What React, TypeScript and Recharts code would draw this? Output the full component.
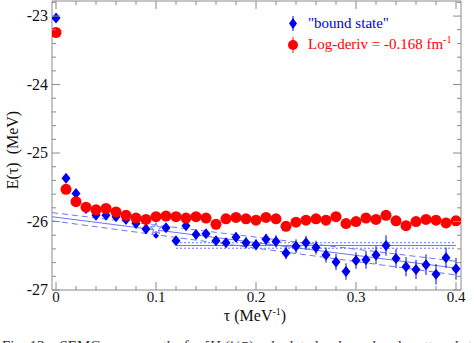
import {
  ComposedChart,
  Customized,
  ErrorBar,
  Line,
  Scatter,
  XAxis,
  YAxis,
} from "recharts";

const tau = [
  0, 0.01, 0.02, 0.03, 0.04, 0.05, 0.06, 0.07, 0.08, 0.09, 0.1, 0.11, 0.12, 0.13,
  0.14, 0.15, 0.16, 0.17, 0.18, 0.19, 0.2, 0.21, 0.22, 0.23, 0.24, 0.25, 0.26,
  0.27, 0.28, 0.29, 0.3, 0.31, 0.32, 0.33, 0.34, 0.35, 0.36, 0.37, 0.38, 0.39, 0.4,
];

const boundState = [
  -23.03, -25.37, -25.59, -25.81, -25.91, -25.91, -25.93, -25.97, -26.03, -26.11,
  -26.15, -26.09, -26.28, -26.06, -26.19, -26.18, -26.28, -26.31, -26.23, -26.31,
  -26.34, -26.26, -26.29, -26.46, -26.36, -26.31, -26.38, -26.49, -26.59, -26.73,
  -26.57, -26.56, -26.49, -26.35, -26.54, -26.66, -26.7, -26.63, -26.77, -26.53,
  -26.69,
];

const boundErr = [
  0.01, 0.02, 0.02, 0.03, 0.03, 0.03, 0.04, 0.04, 0.04, 0.04, 0.05, 0.05, 0.06,
  0.06, 0.06, 0.06, 0.07, 0.07, 0.07, 0.08, 0.08, 0.08, 0.09, 0.09, 0.1, 0.1, 0.1,
  0.11, 0.12, 0.12, 0.12, 0.13, 0.13, 0.15, 0.14, 0.14, 0.14, 0.15, 0.15, 0.15,
  0.16,
];

const logDeriv = [
  -23.24, -25.53, -25.71, -25.79, -25.83, -25.81, -25.86, -25.91, -25.95, -25.97,
  -25.93, -25.92, -25.93, -25.95, -25.93, -25.95, -26.04, -25.96, -25.94, -25.96,
  -25.98, -25.94, -25.96, -26.07, -26.01, -25.98, -25.96, -25.98, -25.93, -26.03,
  -26.0, -25.95, -25.97, -25.91, -25.99, -26.06, -26.0, -25.97, -25.98, -26.02,
  -25.99,
];

const logDerivErr = [
  0.01, 0.01, 0.01, 0.01, 0.01, 0.01, 0.01, 0.01, 0.01, 0.01, 0.02, 0.02, 0.02,
  0.02, 0.02, 0.02, 0.02, 0.02, 0.02, 0.02, 0.02, 0.02, 0.02, 0.02, 0.02, 0.02,
  0.02, 0.02, 0.02, 0.02, 0.03, 0.03, 0.03, 0.03, 0.03, 0.03, 0.03, 0.03, 0.03,
  0.03, 0.03,
];

// linear fit to the bound-state points, with its error band
const fitTau = [-0.004, 0.4];
const fitCenter = [-25.93, -26.68];
const fitUpper = [-25.87, -26.58];
const fitLower = [-25.99, -26.78];

// plateau fit
const plateauTau = [0.12, 0.4];
const plateauCenter = [-26.35, -26.35];
const plateauUpper = [-26.31, -26.31];
const plateauLower = [-26.39, -26.39];

const xTicks = [
  0, 0.02, 0.04, 0.06, 0.08, 0.1, 0.12, 0.14, 0.16, 0.18, 0.2, 0.22, 0.24, 0.26,
  0.28, 0.3, 0.32, 0.34, 0.36, 0.38, 0.4,
];
const yTicks = [
  -27, -26.8, -26.6, -26.4, -26.2, -26, -25.8, -25.6, -25.4, -25.2, -25, -24.8,
  -24.6, -24.4, -24.2, -24, -23.8, -23.6, -23.4, -23.2, -23, -22.8,
];

const blue = "#0000f0";
const red = "#ff0000";
const fitColor = "#6a74ff";
const axisColor = "#8a8a8a";
const font = "'Liberation Serif', 'DejaVu Serif', serif";

const boundData = tau.map((x, i) => ({ x, y: boundState[i], err: boundErr[i] }));
const logData = tau.map((x, i) => ({ x, y: logDeriv[i], err: logDerivErr[i] }));
const toLine = (xs: number[], ys: number[]) => xs.map((x, i) => ({ x, y: ys[i] }));

const isMajorX = (v: number) => Math.abs(v * 10 - Math.round(v * 10)) < 1e-6;
const isMajorY = (v: number) => Math.abs(v - Math.round(v)) < 1e-6;

const BottomTick = (props: any) => {
  const { x, y, payload } = props;
  const major = isMajorX(payload.value);
  return (
    <g>
      <line x1={x} y1={y} x2={x} y2={y - (major ? 8 : 4)} stroke={axisColor} />
      {major && (
        <text x={x} y={y + 12} textAnchor="middle" fontFamily={font} fontSize={15} fill="#111">
          {String(Math.round(payload.value * 10) / 10)}
        </text>
      )}
    </g>
  );
};

const TopTick = (props: any) => {
  const { x, y, payload } = props;
  const major = isMajorX(payload.value);
  return <line x1={x} y1={y} x2={x} y2={y + (major ? 8 : 4)} stroke={axisColor} />;
};

const LeftTick = (props: any) => {
  const { x, y, payload } = props;
  const major = isMajorY(payload.value);
  return (
    <g>
      <line x1={x} y1={y} x2={x + (major ? 8 : 4)} y2={y} stroke={axisColor} />
      {major && (
        <text x={x - 4} y={y + 5} textAnchor="end" fontFamily={font} fontSize={16} fill="#111">
          {String(Math.round(payload.value))}
        </text>
      )}
    </g>
  );
};

const RightTick = (props: any) => {
  const { x, y, payload } = props;
  const major = isMajorY(payload.value);
  return <line x1={x} y1={y} x2={x - (major ? 8 : 4)} y2={y} stroke={axisColor} />;
};

const Diamond = (props: any) => {
  const { cx, cy, payload } = props;
  if (payload && Math.abs(payload.x - 0.1) < 1e-6) {
    // open star marker at tau = 0.1
    const pts: string[] = [];
    for (let k = 0; k < 10; k++) {
      const r = k % 2 === 0 ? 6 : 2.6;
      const a = (Math.PI / 5) * k - Math.PI / 2;
      pts.push(`${cx + r * Math.cos(a)},${cy - 3 + r * Math.sin(a)}`);
    }
    return (
      <g>
        <polygon points={`${cx},${cy + 1} ${cx + 3},${cy + 4} ${cx},${cy + 7} ${cx - 3},${cy + 4}`} fill={blue} />
        <polygon points={pts.join(" ")} fill="#fff" stroke={fitColor} strokeWidth={1} />
      </g>
    );
  }
  return (
    <polygon
      points={`${cx},${cy - 5.5} ${cx + 4.5},${cy} ${cx},${cy + 5.5} ${cx - 4.5},${cy}`}
      fill={blue}
    />
  );
};

const Dot = (props: any) => {
  const { cx, cy } = props;
  return <circle cx={cx} cy={cy} r={5.5} fill={red} />;
};

const Overlay = () => (
  <g fontFamily={font}>
    {/* legend */}
    <line x1={293} y1={16} x2={293} y2={31} stroke={blue} strokeWidth={1} />
    <polygon points="293,18 297,23.5 293,29 289,23.5" fill={blue} />
    <text x={308} y={28} fontSize={15} fill={blue}>
      "bound state"
    </text>
    <line x1={293} y1={37} x2={293} y2={53} stroke={red} strokeWidth={1} />
    <circle cx={293} cy={45} r={5} fill={red} />
    <text x={308} y={49} fontSize={15} fill={red}>
      Log-deriv = -0.168 fm
      <tspan dy={-6} fontSize={10}>
        -1
      </tspan>
    </text>
    {/* axis titles */}
    <text
      x={18}
      y={150}
      transform="rotate(-90 18 150)"
      textAnchor="middle"
      fontSize={16}
      fill="#111"
    >
      {"E(τ)\u00a0\u00a0(MeV)"}
    </text>
    <text x={255} y={321} textAnchor="middle" fontSize={16} fill="#111">
      τ (MeV
      <tspan dy={-6} fontSize={10}>
        -1
      </tspan>
      <tspan dy={6}>)</tspan>
    </text>
    {/* caption, cut off by the bottom edge */}
    <text x={2} y={351} fontSize={15} fill="#333">
      {"Fig. 13.\u00a0\u00a0\u00a0SEMC energy paths for ⁵H (½⁻) calculated as bound and scattered states"}
    </text>
  </g>
);

export default function App() {
  return (
    <div style={{ position: "absolute", left: 0, top: 0, background: "#fff" }}>
      <ComposedChart
        width={474}
        height={343}
        margin={{ top: 0, right: 12, bottom: 0, left: 0 }}
      >
        <XAxis
          xAxisId={0}
          type="number"
          dataKey="x"
          domain={[-0.004, 0.405]}
          allowDataOverflow
          ticks={xTicks}
          interval={0}
          height={53}
          tickSize={0}
          tickMargin={0}
          tickLine={false}
          tick={<BottomTick />}
          axisLine={{ stroke: axisColor }}
        />
        <XAxis
          xAxisId="top"
          orientation="top"
          type="number"
          dataKey="x"
          domain={[-0.004, 0.405]}
          allowDataOverflow
          ticks={xTicks}
          interval={0}
          height={1}
          tickSize={0}
          tickMargin={0}
          tickLine={false}
          tick={<TopTick />}
          axisLine={{ stroke: axisColor }}
        />
        <YAxis
          yAxisId={0}
          type="number"
          dataKey="y"
          domain={[-27, -22.78]}
          allowDataOverflow
          ticks={yTicks}
          interval={0}
          width={52}
          tickSize={0}
          tickMargin={0}
          tickLine={false}
          tick={<LeftTick />}
          axisLine={{ stroke: axisColor }}
        />
        <YAxis
          yAxisId="right"
          orientation="right"
          type="number"
          dataKey="y"
          domain={[-27, -22.78]}
          allowDataOverflow
          ticks={yTicks}
          interval={0}
          width={1}
          tickSize={0}
          tickMargin={0}
          tickLine={false}
          tick={<RightTick />}
          axisLine={{ stroke: axisColor }}
        />

        <Line data={toLine(fitTau, fitCenter)} dataKey="y" type="linear" stroke={fitColor} strokeWidth={1} dot={false} isAnimationActive={false} />
        <Line data={toLine(fitTau, fitUpper)} dataKey="y" type="linear" stroke={fitColor} strokeWidth={1} strokeDasharray="6 4" dot={false} isAnimationActive={false} />
        <Line data={toLine(fitTau, fitLower)} dataKey="y" type="linear" stroke={fitColor} strokeWidth={1} strokeDasharray="6 4" dot={false} isAnimationActive={false} />
        <Line data={toLine(plateauTau, plateauCenter)} dataKey="y" type="linear" stroke={fitColor} strokeWidth={1} dot={false} isAnimationActive={false} />
        <Line data={toLine(plateauTau, plateauUpper)} dataKey="y" type="linear" stroke={fitColor} strokeWidth={1} strokeDasharray="2 2" dot={false} isAnimationActive={false} />
        <Line data={toLine(plateauTau, plateauLower)} dataKey="y" type="linear" stroke={fitColor} strokeWidth={1} strokeDasharray="2 2" dot={false} isAnimationActive={false} />

        <Scatter data={boundData} dataKey="y" shape={<Diamond />} isAnimationActive={false}>
          <ErrorBar dataKey="err" direction="y" width={0} stroke={blue} strokeWidth={1} />
        </Scatter>
        <Scatter data={logData} dataKey="y" shape={<Dot />} isAnimationActive={false}>
          <ErrorBar dataKey="err" direction="y" width={0} stroke={red} strokeWidth={1} />
        </Scatter>

        <Customized component={<Overlay />} />
      </ComposedChart>
    </div>
  );
}
